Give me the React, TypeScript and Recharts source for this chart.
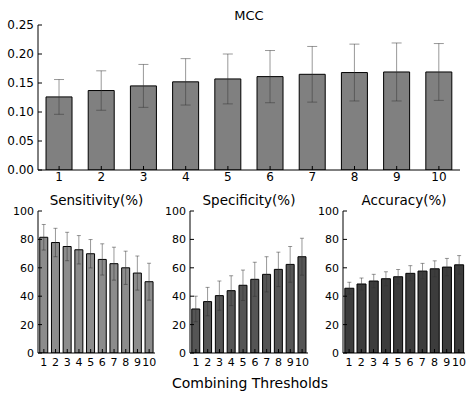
import React from "react";
import { BarChart, Bar, XAxis, YAxis, ErrorBar } from "recharts";

const thresholds = ["1", "2", "3", "4", "5", "6", "7", "8", "9", "10"];

const mccValues = [0.126, 0.137, 0.145, 0.152, 0.157, 0.161, 0.165, 0.168, 0.169, 0.169];
const mccErrors = [0.03, 0.034, 0.037, 0.04, 0.043, 0.045, 0.048, 0.049, 0.05, 0.049];

const sensitivityValues = [81.5, 77.8, 75, 72.7, 69.9, 65.9, 62.9, 60, 56.3, 50.2];
const sensitivityErrors = [9, 10, 10, 10, 10, 11, 11.6, 11.7, 12, 13];

const specificityValues = [31, 36.2, 40.4, 43.9, 47.7, 51.9, 55.4, 58.9, 62.4, 67.8];
const specificityErrors = [9, 10, 10.3, 10.5, 10.7, 12, 12.4, 12.1, 12.6, 13];

const accuracyValues = [45.6, 48.6, 50.7, 52.3, 53.7, 56.1, 57.7, 59.3, 60.5, 62.1];
const accuracyErrors = [4.2, 4.2, 4.7, 4.9, 5.1, 5.4, 5.4, 5.6, 6.1, 6.5];

const mccTicks = [0, 0.05, 0.1, 0.15, 0.2, 0.25];
const pctTicks = [0, 20, 40, 60, 80, 100];

const font = "'DejaVu Sans', sans-serif";

const toRows = (values: number[], errors: number[]) =>
  thresholds.map((t, i) => ({ name: t, value: values[i], err: errors[i] }));

interface PanelProps {
  values: number[];
  errors: number[];
  width: number;
  height: number;
  margin: { top: number; right: number; bottom: number; left: number };
  domain: [number, number];
  ticks: number[];
  fill: string;
  fontSize: number;
  yWidth: number;
  capWidth: number;
  gap: string;
  xMargin: number;
  decimals?: number;
}

const Panel: React.FC<PanelProps> = (p) => {
  const data = toRows(p.values, p.errors);
  const tickStyle = { fill: "#000", fontSize: p.fontSize, fontFamily: font };
  return (
    <BarChart width={p.width} height={p.height} data={data} margin={p.margin} barCategoryGap={p.gap}>
      <XAxis
        dataKey="name"
        interval={0}
        tick={tickStyle}
        tickSize={-4}
        tickMargin={p.xMargin}
        axisLine={{ stroke: "#000" }}
        tickLine={{ stroke: "#000" }}
        height={20}
      />
      <XAxis
        xAxisId="top"
        dataKey="name"
        orientation="top"
        interval={0}
        tickFormatter={() => ""}
        tickSize={-4}
        axisLine={{ stroke: "#000" }}
        tickLine={{ stroke: "#000" }}
        height={0}
      />
      <YAxis
        domain={p.domain}
        ticks={p.ticks}
        interval={0}
        tick={tickStyle}
        tickSize={-4}
        tickMargin={8}
        width={p.yWidth}
        axisLine={{ stroke: "#000" }}
        tickLine={{ stroke: "#000" }}
        tickFormatter={(v: number) => (p.decimals ? v.toFixed(p.decimals) : String(v))}
        allowDataOverflow
      />
      <YAxis
        yAxisId="right"
        orientation="right"
        domain={p.domain}
        ticks={p.ticks}
        interval={0}
        tickFormatter={() => ""}
        tickSize={-4}
        width={0}
        axisLine={{ stroke: "#000" }}
        tickLine={{ stroke: "#000" }}
      />
      <Bar dataKey="value" fill={p.fill} stroke="#000" strokeWidth={1} isAnimationActive={false}>
        <ErrorBar dataKey="err" width={p.capWidth} stroke="#333" strokeOpacity={0.5} strokeWidth={1} direction="y" />
      </Bar>
    </BarChart>
  );
};

const titleStyle = (left: number, top: number, width: number, size: number): React.CSSProperties => ({
  position: "absolute",
  left,
  top,
  width,
  textAlign: "center",
  fontFamily: font,
  fontSize: size,
  lineHeight: "1",
  color: "#000",
});

export default function App() {
  return (
    <div style={{ position: "absolute", left: 0, top: 0, width: 474, height: 393, background: "#fff" }}>
      <div style={titleStyle(38, 9, 422, 13)}>MCC</div>
      <div style={{ position: "absolute", left: 0, top: 0 }}>
        <Panel
          values={mccValues}
          errors={mccErrors}
          width={474}
          height={190}
          margin={{ top: 25, right: 14, bottom: 0, left: 4 }}
          domain={[0, 0.25]}
          ticks={mccTicks}
          fill="#808080"
          fontSize={12}
          yWidth={34}
          capWidth={5}
          gap="19%"
          xMargin={6}
          decimals={2}
        />
      </div>

      <div style={titleStyle(38, 194, 117, 13.5)}>Sensitivity(%)</div>
      <div style={{ position: "absolute", left: 0, top: 190 }}>
        <Panel
          values={sensitivityValues}
          errors={sensitivityErrors}
          width={160}
          height={185}
          margin={{ top: 21, right: 5, bottom: 2, left: 8 }}
          domain={[0, 100]}
          ticks={pctTicks}
          fill="#8c8c8c"
          fontSize={11}
          yWidth={30}
          capWidth={2}
          gap="15%"
          xMargin={9}
        />
      </div>

      <div style={titleStyle(190, 194, 118, 13.5)}>Specificity(%)</div>
      <div style={{ position: "absolute", left: 155, top: 190 }}>
        <Panel
          values={specificityValues}
          errors={specificityErrors}
          width={160}
          height={185}
          margin={{ top: 21, right: 7, bottom: 2, left: 5 }}
          domain={[0, 100]}
          ticks={pctTicks}
          fill="#555555"
          fontSize={11}
          yWidth={30}
          capWidth={2}
          gap="15%"
          xMargin={9}
        />
      </div>

      <div style={titleStyle(343, 194, 122, 13.5)}>Accuracy(%)</div>
      <div style={{ position: "absolute", left: 310, top: 190 }}>
        <Panel
          values={accuracyValues}
          errors={accuracyErrors}
          width={164}
          height={185}
          margin={{ top: 21, right: 9, bottom: 2, left: 3 }}
          domain={[0, 100]}
          ticks={pctTicks}
          fill="#3c3c3c"
          fontSize={11}
          yWidth={30}
          capWidth={2}
          gap="15%"
          xMargin={9}
        />
      </div>

      <div style={titleStyle(100, 376, 300, 14)}>Combining Thresholds</div>
    </div>
  );
}
